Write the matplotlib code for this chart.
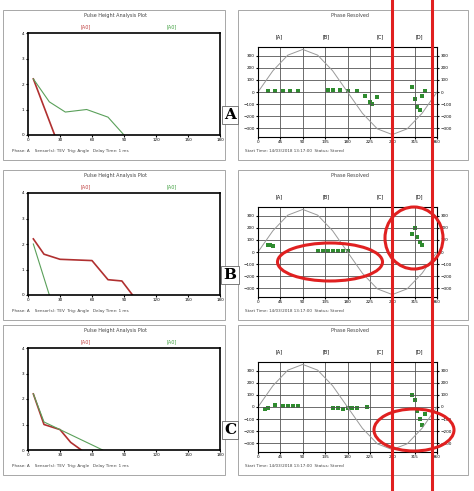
import matplotlib
matplotlib.use("Agg")
import matplotlib.pyplot as plt
from matplotlib.patches import Ellipse, Rectangle

W, H = 474, 491
fig = plt.figure(figsize=(W/100, H/100), dpi=100)
fig.patch.set_facecolor("white")

def ax_px(x0, y0, x1, y1):
    return fig.add_axes([x0/W, 1-y1/H, (x1-x0)/W, (y1-y0)/H])

# ---- Data: pulse height plots (left) ----
ph_x = {"A": ([5, 25], [5, 20, 35, 55, 75, 90]),
        "B": ([5, 15, 30, 60, 75, 88, 98], [5, 20]),
        "C": ([5, 15, 30, 40, 50], [5, 15, 30, 45, 60, 70])}
ph_red = {"A": [2.2, 0.0],
          "B": [2.2, 1.6, 1.4, 1.35, 0.6, 0.55, 0.0],
          "C": [2.2, 1.0, 0.8, 0.3, 0.0]}
ph_green = {"A": [2.2, 1.3, 0.9, 1.0, 0.7, 0.0],
            "B": [2.0, 0.0],
            "C": [2.2, 1.1, 0.8, 0.5, 0.2, 0.0]}
# ---- Data: phase resolved plots (right) ----
phase_deg = [0, 30, 60, 90, 120, 150, 180, 210, 240, 270, 300, 330, 360]
sine_vals = [0, 175, 303, 350, 303, 175, 0, -175, -303, -350, -303, -175, 0]
pd_phase = {"A": [20, 35, 50, 65, 80, 140, 150, 165, 180, 200, 215, 225, 230, 240, 310, 315, 320, 325, 330, 335],
            "B": [20, 25, 30, 120, 130, 140, 150, 160, 170, 180, 310, 315, 320, 325, 330],
            "C": [15, 20, 35, 50, 60, 70, 80, 150, 160, 170, 180, 190, 200, 220, 310, 315, 320, 325, 330, 335]}
pd_amp = {"A": [10, 10, 10, 10, 10, 15, 15, 15, 10, 5, -30, -80, -100, -40, 40, -60, -120, -150, -30, 10],
          "B": [60, 55, 50, 10, 12, 12, 10, 8, 8, 5, 150, 200, 120, 80, 60],
          "C": [-20, -10, 20, 10, 10, 10, 10, -5, -10, -15, -10, -10, -5, 0, 100, 60, -30, -100, -150, -60]}

rows = ["A", "B", "C"]
tops = [20, 180, 335]
for i, r in enumerate(rows):
    t = tops[i]
    fig.add_artist(Rectangle((3/W, 1-(t+140)/H), 222/W, 150/H, transform=fig.transFigure,
                             fill=False, ec="#999999", lw=0.6))
    fig.add_artist(Rectangle((238/W, 1-(t+140)/H), 230/W, 150/H, transform=fig.transFigure,
                             fill=False, ec="#999999", lw=0.6))
    fig.text(115/W, 1-(t-3)/H, "Pulse Height Analysis Plot", fontsize=3.5, ha="center", color="#444")
    fig.text(12/W, 1-(t+132)/H, "Phase: A    Sensor(s): TEV  Trig: Angle   Delay Time: 1 ms", fontsize=3, color="#444")
    fig.text(245/W, 1-(t+132)/H, "Start Time: 14/03/2018 13:17:00  Status: Stored", fontsize=3, color="#444")
    a = ax_px(28, t+13, 220, t+115)
    a.plot(ph_x[r][0], ph_red[r], color="#b03030", lw=1.2)
    a.plot(ph_x[r][1], ph_green[r], color="#5aa05a", lw=0.8)
    a.set_xlim(0, 180); a.set_ylim(0, 4)
    a.set_xticks([0, 30, 60, 90, 120, 150, 180]); a.set_yticks([0, 1, 2, 3, 4])
    a.tick_params(labelsize=3, length=1.5, pad=1)
    for s in a.spines.values(): s.set_linewidth(1.2)
    a.text(0.3, 1.05, "[A0]", color="#c04040", fontsize=3.5, transform=a.transAxes, ha="center")
    a.text(0.75, 1.05, "[A0]", color="#40a040", fontsize=3.5, transform=a.transAxes, ha="center")
    fig.text(350/W, 1-(t-3)/H, "Phase Resolved", fontsize=3.5, ha="center", color="#444")
    b = ax_px(258, t+27, 437, t+117)
    b.plot(phase_deg, sine_vals, color="#999999", lw=0.7)
    b.scatter(pd_phase[r], pd_amp[r], s=6, color="#2e8b2e", marker="s", lw=0)
    b.set_xlim(0, 360); b.set_ylim(-370, 370)
    b.set_xticks(range(0, 361, 45)); b.set_yticks(range(-300, 301, 100))
    b.grid(True, color="#555", lw=0.6)
    b.tick_params(labelsize=3, length=1.5, pad=1, right=True, labelright=True)
    for k, lab in enumerate(["[A]", "[B]", "[C]", "[D]"]):
        b.text([0.12, 0.38, 0.68, 0.9][k], 1.1, lab, fontsize=3.5, transform=b.transAxes, ha="center")
    fig.text(230/W, 1-(t+95)/H, r, fontsize=11, fontweight="bold", family="DejaVu Serif",
             ha="center", va="center",
             bbox=dict(boxstyle="square,pad=0.15", fc="white", ec="#666", lw=0.6))

for x in (392, 432):
    fig.add_artist(plt.Line2D([x/W, x/W], [0, 1], color="#e02020", lw=2.2, transform=fig.transFigure))
for cx, cy, w, h in [(330, 262, 105, 38), (414, 238, 58, 62), (414, 430, 80, 42)]:
    fig.add_artist(Ellipse((cx/W, 1-cy/H), w/W, h/H, transform=fig.transFigure,
                           fill=False, ec="#e02020", lw=2.2))

fig.savefig("out.png", dpi=100)
